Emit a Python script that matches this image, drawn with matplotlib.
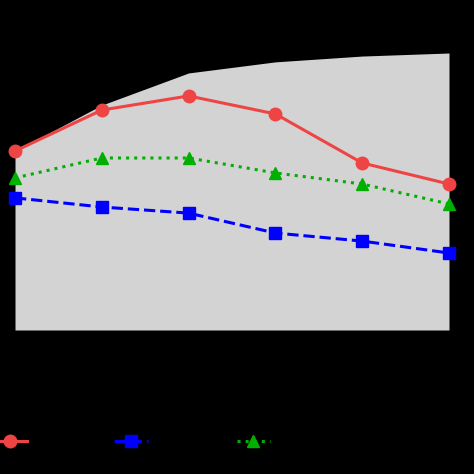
import matplotlib

matplotlib.use("Agg")
import matplotlib.pyplot as plt

steps = [0, 1, 2, 3, 4, 5]
upper_bound = [0.646, 0.812, 0.928, 0.968, 0.989, 1.0]
method_a = [0.646, 0.794, 0.845, 0.780, 0.603, 0.527]
method_b = [0.477, 0.444, 0.422, 0.350, 0.321, 0.278]
method_c = [0.549, 0.621, 0.621, 0.567, 0.527, 0.455]
labels = ["Ours", "Base", "Ref"]

figure = plt.figure(figsize=(4.74, 4.74), dpi=100, facecolor="black")
axes = figure.add_axes([15 / 474, 144 / 474, 434 / 474, 277 / 474])
axes.set_facecolor("none")

axes.fill_between(steps, 0, upper_bound, color="#d3d3d3", linewidth=0)
axes.plot(steps, method_a, color="#ef4444", linewidth=2.2, marker="o",
          markersize=9, label=labels[0], clip_on=False)
axes.plot(steps, method_b, color="#0000ff", linewidth=2.2, linestyle="--",
          marker="s", markersize=9, label=labels[1], clip_on=False)
axes.plot(steps, method_c, color="#00b000", linewidth=2.2, linestyle=":",
          marker="^", markersize=9, label=labels[2], clip_on=False)

axes.set_xlim(0, 5)
axes.set_ylim(0, 1)
axes.set_xticks([])
axes.set_yticks([])
for spine in axes.spines.values():
    spine.set_visible(False)

legend = figure.legend(
    loc="center left",
    bbox_to_anchor=(-0.045, 32 / 474),
    ncol=3,
    frameon=False,
    fontsize=12,
    handlelength=2.0,
    columnspacing=2.1,
)

figure.savefig("out.png", dpi=100, facecolor="black")
